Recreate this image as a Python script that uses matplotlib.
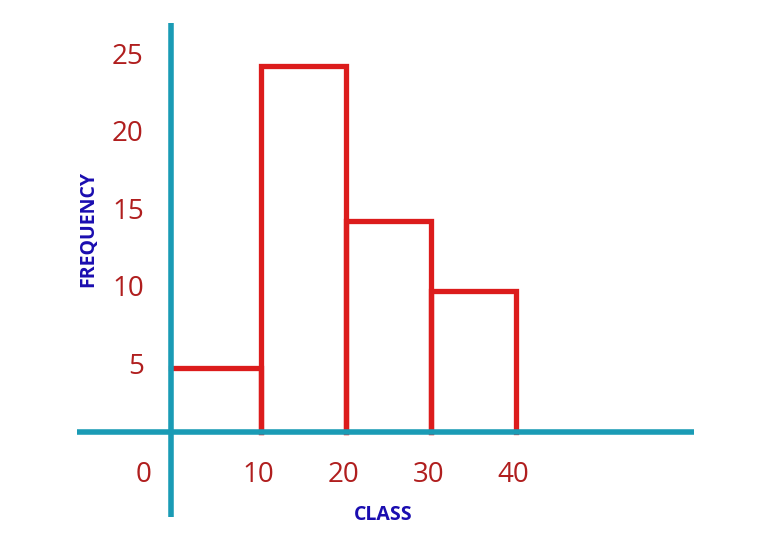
import matplotlib
matplotlib.use("Agg")
import matplotlib.pyplot as plt

class_edges = [0, 10, 20, 30, 40]
frequencies = [5, 24.5, 14.5, 10]
x_ticks = [0, 10, 20, 30, 40]
y_ticks = [5, 10, 15, 20, 25]
baseline = 0.9

red = "#dc1c1c"
label_red = "#b01e1e"
teal = "#1a9bb5"
blue = "#1a0db0"

fig = plt.figure(figsize=(7.68, 5.39), dpi=100)
ax = fig.add_axes([0, 0, 1, 1])
ax.set_xlim(-20.7, 69.6)
ax.set_ylim(-6.0, 28.77)
ax.axis("off")

# axes lines
ax.plot([-11.6, 60.9], [baseline, baseline], color=teal, lw=4, solid_capstyle="butt", zorder=3)
ax.plot([-0.6, -0.6], [-4.6, 27.3], color=teal, lw=4, solid_capstyle="butt", zorder=3)

# bars
for i, f in enumerate(frequencies):
    l, r = class_edges[i], class_edges[i + 1]
    if i == 0:
        xs, ys = [-0.6, r, r], [f, f, baseline]
    else:
        xs, ys = [l, l, r, r], [baseline, f, f, baseline]
    ax.plot(xs, ys, color=red, lw=3.8, solid_joinstyle="miter", zorder=2)

for v in x_ticks:
    xp = -3.8 if v == 0 else v - 0.3
    ax.text(xp, -1.9, str(v), color=label_red, fontsize=20, ha="center", va="center",
            family="Open Sans")
for v in y_ticks:
    ax.text(-3.8, v + 0.1, str(v), color=label_red, fontsize=20, ha="right", va="center",
            family="Open Sans")

ax.text(-10.3, 14.0, "FREQUENCY", color=blue, fontsize=14, fontweight="bold", rotation=90,
        ha="center", va="center", family="Open Sans")
ax.text(24.3, -4.45, "CLASS", color=blue, fontsize=14, fontweight="bold",
        ha="center", va="center", family="Open Sans")

fig.savefig("out.png", dpi=100)
